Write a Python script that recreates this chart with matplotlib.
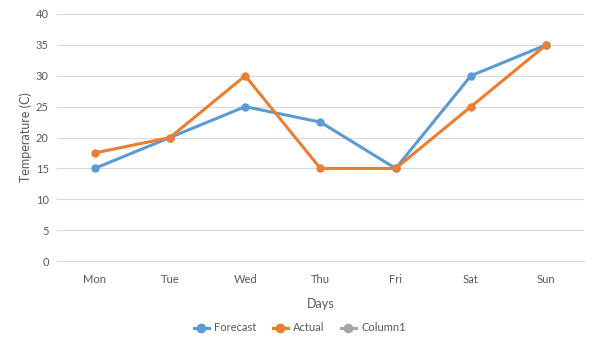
import matplotlib
matplotlib.use("Agg")
import matplotlib.pyplot as plt
from matplotlib.lines import Line2D

days = ["Mon", "Tue", "Wed", "Thu", "Fri", "Sat", "Sun"]
forecast = [15, 20, 25, 22.5, 15, 30, 35]
actual = [17.5, 20, 30, 15, 15, 25, 35]
yticks = [0, 5, 10, 15, 20, 25, 30, 35, 40]

plt.rcParams['font.family'] = ['Lato', 'DejaVu Sans']
txt = '#595959'
c_f, c_a, c_c = '#5B9BD5', '#ED7D31', '#A5A5A5'

fig = plt.figure(figsize=(6, 3.5), dpi=100)
ax = fig.add_axes([0.095, 0.254, 0.878, 0.706])
x = list(range(len(days)))
ax.plot(x, forecast, color=c_f, lw=2.2, marker='o', ms=5, zorder=3)
ax.plot(x, actual, color=c_a, lw=2.2, marker='o', ms=5, zorder=4)
ax.set_xlim(-0.5, 6.5)
ax.set_ylim(0, 40)
ax.set_yticks(yticks)
ax.set_xticks(x)
ax.set_xticklabels(days)
ax.grid(axis='y', color='#D9D9D9', lw=0.8)
ax.set_axisbelow(True)
for s in ['top', 'right', 'left']:
    ax.spines[s].set_visible(False)
ax.spines['bottom'].set_color('#D9D9D9')
ax.tick_params(length=0, colors=txt, labelsize=8)
ax.tick_params(axis='x', pad=9)
ax.tick_params(axis='y', pad=6)
ax.set_xlabel('Days', color=txt, fontsize=9, labelpad=10)
ax.set_ylabel('Temperature (C)', color=txt, fontsize=9, labelpad=3)

handles = [Line2D([], [], color=c, lw=2.2, marker='o', ms=6) for c in (c_f, c_a, c_c)]
fig.legend(handles, ['Forecast', 'Actual', 'Column1'], loc='center', bbox_to_anchor=(0.5, 0.063),
           ncol=3, frameon=False, fontsize=8, labelcolor=txt, handlelength=1.3,
           handletextpad=0.5, columnspacing=1.5)
fig.savefig('out.png', dpi=100)
